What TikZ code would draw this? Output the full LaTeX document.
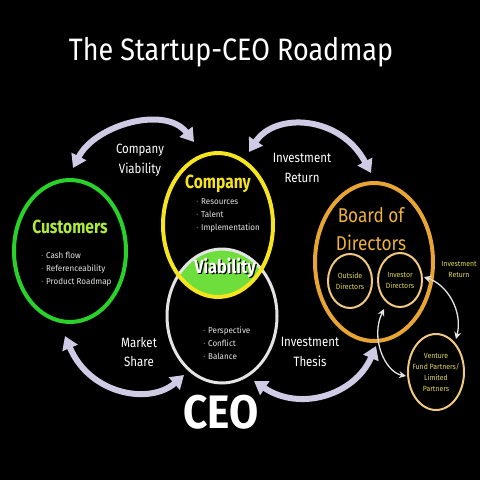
\documentclass[tikz,border=0pt]{standalone}
\usepackage{fontspec}
\setmainfont{Fira Sans}
\usetikzlibrary{shapes.geometric,arrows.meta}
\definecolor{cgreen}{RGB}{40,210,40}
\definecolor{clime}{RGB}{175,235,60}
\definecolor{cyell}{RGB}{245,228,30}
\definecolor{corange}{RGB}{232,165,50}
\definecolor{cboard}{RGB}{238,178,60}
\definecolor{ccream}{RGB}{240,200,130}
\definecolor{csmall}{RGB}{228,215,90}
\definecolor{cwhite}{RGB}{228,228,228}
\definecolor{carrow}{RGB}{208,203,228}
\definecolor{cvia}{RGB}{110,222,60}
\definecolor{cbul}{RGB}{150,150,150}
\newcommand{\bul}{{\color{cbul}\textperiodcentered}\hspace{3pt}}
\tikzset{
  ring/.style={ellipse,inner sep=0pt},
  bigarrow/.style={draw=carrow,line width=6pt,{Triangle[width=16pt,length=13pt]}-{Triangle[width=16pt,length=13pt]}},
  smallarrow/.style={draw=cwhite,line width=1.3pt,{Stealth[width=7pt,length=7pt]}-{Stealth[width=7pt,length=7pt]}},
  lbl/.style={text=white,font=\fontsize{13.5}{19.5}\selectfont,align=center,xscale=0.85},
  bullets/.style={text=cwhite,font=\fontsize{8.5}{13}\selectfont,align=left,anchor=west,xscale=0.95},
  tiny/.style={text=csmall,font=\fontsize{7.5}{11}\selectfont,align=center,xscale=0.92},
  head/.style={font=\bfseries\fontsize{19}{22}\selectfont,xscale=0.82}
}
\begin{document}
\begin{tikzpicture}[x=1pt,y=-1pt]
\fill[black] (0,0) rectangle (480,480);
\useasboundingbox (0,0) rectangle (480,480);
% title
\node[text=white,font=\fontsize{31}{34}\selectfont,xscale=0.87] (title) at (231,52) {The Startup-CEO Roadmap};
% viability fill
\begin{scope}
  \clip (218,225) ellipse [x radius=55pt,y radius=72pt];
  \fill[cvia] (222,316) ellipse [x radius=55pt,y radius=67pt];
\end{scope}
% circles
\node[ring,draw=cgreen,line width=4pt,minimum width=112pt,minimum height=142pt] (cust) at (70,251) {};
\node[ring,draw=cwhite,line width=3pt,minimum width=110pt,minimum height=134pt] (ceo) at (222,316) {};
\node[ring,draw=cyell,line width=4pt,minimum width=110pt,minimum height=144pt] (comp) at (218,225) {};
\node[ring,draw=corange,line width=4pt,minimum width=118pt,minimum height=158pt] (board) at (374,262) {};
\node[ring,draw=ccream,line width=2pt,minimum width=44pt,minimum height=54pt] (outside) at (350,281) {};
\node[ring,draw=ccream,line width=2pt,minimum width=44pt,minimum height=54pt] (investor) at (400,280) {};
\node[ring,draw=ccream,line width=2pt,minimum width=56pt,minimum height=76pt] (venture) at (436,372) {};
% texts in circles
\node[head,text=clime] (custt) at (70,227) {Customers};
\node[bullets] (custb) at (38,269) {\bul Cash flow\\\bul Referenceability\\\bul Product Roadmap};
\node[head,text=cyell] (compt) at (218,184) {Company};
\node[bullets] (compb) at (193,215) {\bul Resources\\\bul Talent\\\bul Implementation};
\node[head,text=black,xscale=1.05] (viash) at (226.3,269.3) {Viability};
\node[head,text=white,xscale=1.05] (via) at (225,268) {Viability};
\node[bullets] (ceob) at (200,343) {\bul Perspective\\\bul Conflict\\\bul Balance};
\node[text=cboard,font=\fontsize{20}{28}\selectfont,align=center,xscale=0.86] (boardt) at (371,229) {Board of\\Directors};
\node[tiny] (outt) at (350,281) {Outside\\Directors};
\node[tiny] (invt) at (400,280) {Investor\\Directors};
\node[tiny] (vent) at (436,372) {Venture\\Fund Partners/\\Limited\\Partners};
\node[tiny] (irt) at (459,269) {Investment\\Return};
\node[text=white,font=\bfseries\fontsize{47}{50}\selectfont,xscale=0.9] (ceot) at (221,412) {CEO};
% arrow labels
\node[lbl] (cv) at (140,160) {Company\\Viability};
\node[lbl] (ir) at (302,168) {Investment\\Return};
\node[lbl] (ms) at (139,352) {Market\\Share};
\node[lbl] (it) at (310,352) {Investment\\Thesis};
% connector end points
\coordinate (a1) at (73,168); \coordinate (a2) at (194,142);
\coordinate (b1) at (249,152); \coordinate (b2) at (371,173);
\coordinate (c1) at (65,336); \coordinate (c2) at (184,375);
\coordinate (d1) at (254,381); \coordinate (d2) at (376,346);
\draw[bigarrow] (a1) .. controls (95,125) and (165,105) .. (a2);
\draw[bigarrow] (b1) .. controls (275,112) and (340,115) .. (b2);
\draw[bigarrow] (c1) .. controls (90,395) and (150,405) .. (c2);
\draw[bigarrow] (d1) .. controls (300,412) and (355,395) .. (d2);
% small arrows
\coordinate (e1) at (424,277); \coordinate (e2) at (456,339);
\coordinate (f1) at (384,309); \coordinate (f2) at (406,376);
\draw[smallarrow] (e1) .. controls (448,285) and (463,312) .. (e2);
\draw[smallarrow] (f1) .. controls (370,338) and (385,372) .. (f2);
\end{tikzpicture}
\end{document}
